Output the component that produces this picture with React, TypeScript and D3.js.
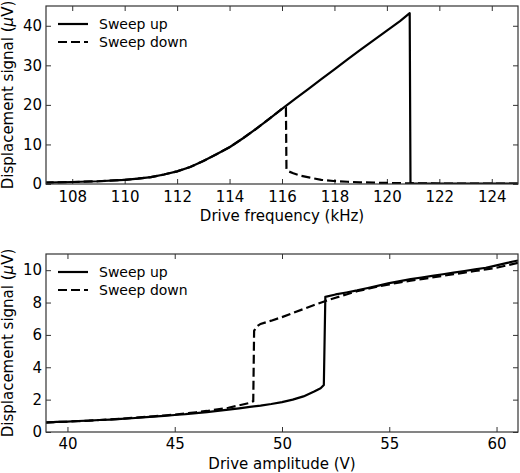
import { useEffect, useRef } from "react";
import * as d3 from "d3";

// Top panel: drive frequency sweep (kHz -> µV)
const freqUpX = [107, 108, 109, 110, 110.5, 111, 111.5, 112, 112.5, 113, 113.5, 114, 114.5, 115, 115.5, 116, 116.5, 117, 117.5, 118, 118.5, 119, 119.5, 120, 120.5, 120.87, 120.9, 121, 122, 123, 124, 125];
const freqUpY = [0.35, 0.5, 0.7, 1.05, 1.35, 1.75, 2.4, 3.2, 4.3, 5.8, 7.5, 9.3, 11.5, 13.9, 16.4, 19.0, 21.5, 24.0, 26.5, 29.0, 31.5, 34.0, 36.4, 38.8, 41.2, 43.2, 0.2, 0.15, 0.12, 0.1, 0.08, 0.07];

const freqDownX = [125, 124, 123, 122, 121, 120.76, 120, 119.5, 118.97, 118.5, 117.96, 117.5, 117.07, 116.7, 116.43, 116.25, 116.17, 116.15, 116, 115.5, 115, 114.5, 114, 113.5, 113, 112.5, 112, 111.5, 111, 110.5, 110, 109, 108, 107];
const freqDownY = [0.07, 0.08, 0.1, 0.12, 0.16, 0.18, 0.26, 0.33, 0.43, 0.57, 0.76, 1.05, 1.6, 2.1, 2.7, 3.2, 3.8, 19.2, 19.0, 16.4, 13.9, 11.5, 9.3, 7.5, 5.8, 4.3, 3.2, 2.4, 1.75, 1.35, 1.05, 0.7, 0.5, 0.35];

// Bottom panel: drive amplitude sweep (V -> µV)
const ampUpX = [39, 39.5, 40, 40.5, 41, 41.5, 42, 42.5, 43, 43.5, 44, 44.5, 45, 45.5, 46, 46.5, 47, 47.5, 48, 48.5, 49, 49.5, 50, 50.5, 51, 51.5, 51.8, 51.95, 52.02, 52.5, 53, 53.5, 54, 54.5, 55, 55.5, 56, 56.5, 57, 57.5, 58, 58.5, 59, 59.5, 60, 60.5, 61];
const ampUpY = [0.58, 0.63, 0.64, 0.68, 0.7, 0.74, 0.77, 0.81, 0.85, 0.9, 0.95, 1.0, 1.05, 1.1, 1.17, 1.23, 1.3, 1.38, 1.46, 1.55, 1.63, 1.73, 1.85, 2.0, 2.2, 2.5, 2.7, 2.9, 8.35, 8.5, 8.62, 8.75, 8.9, 9.05, 9.2, 9.32, 9.45, 9.55, 9.65, 9.75, 9.85, 9.95, 10.05, 10.15, 10.3, 10.45, 10.6];

const ampDownX = [61, 60.5, 60, 59.5, 59, 58.5, 58, 57.5, 57, 56.5, 56, 55.5, 55, 54.5, 54, 53.5, 53, 52.5, 52, 51.5, 51, 50.5, 50, 49.5, 49, 48.8, 48.7, 48.66, 48.5, 48, 47.5, 47, 46.5, 46, 45.5, 45, 44.5, 44, 43.5, 43, 42.5, 42, 41.5, 41, 40.5, 40, 39.5, 39];
const ampDownY = [10.45, 10.3, 10.15, 10.05, 9.95, 9.85, 9.75, 9.65, 9.55, 9.45, 9.35, 9.25, 9.12, 9.0, 8.85, 8.7, 8.5, 8.3, 8.08, 7.85, 7.6, 7.35, 7.1, 6.88, 6.68, 6.5, 6.25, 1.9, 1.8, 1.65, 1.5, 1.4, 1.3, 1.22, 1.15, 1.08, 1.02, 0.97, 0.92, 0.87, 0.82, 0.78, 0.74, 0.7, 0.67, 0.64, 0.62, 0.6];

const freqTicks = [108, 110, 112, 114, 116, 118, 120, 122, 124];
const freqYTicks = [0, 10, 20, 30, 40];
const ampTicks = [40, 45, 50, 55, 60];
const ampYTicks = [0, 2, 4, 6, 8, 10];

const seriesNames = ["Sweep up", "Sweep down"];

const FONT = "DejaVu Sans, sans-serif";
const FRAME = "#333";

interface PanelSpec {
  id: string;
  top: number;
  bottom: number;
  xDomain: [number, number];
  yDomain: [number, number];
  xTicks: number[];
  yTicks: number[];
  xLabel: string;
  xLabelY: number;
  xTickPad: number;
  up: [number[], number[]];
  down: [number[], number[]];
}

export default function App() {
  const svgRef = useRef<SVGSVGElement>(null);

  useEffect(() => {
    document.body.style.margin = "0";
    if (!svgRef.current) return;
    const svg = d3.select(svgRef.current);
    svg.selectAll("*").remove();

    const left = 46;
    const right = 518;

    const panels: PanelSpec[] = [
      {
        id: "freq",
        top: 6,
        bottom: 184,
        xDomain: [107, 125],
        yDomain: [0, 45],
        xTicks: freqTicks,
        yTicks: freqYTicks,
        xLabel: "Drive frequency (kHz)",
        xLabelY: 221,
        xTickPad: 7,
        up: [freqUpX, freqUpY],
        down: [freqDownX, freqDownY],
      },
      {
        id: "amp",
        top: 254,
        bottom: 432,
        xDomain: [39, 61],
        yDomain: [0, 11],
        xTicks: ampTicks,
        yTicks: ampYTicks,
        xLabel: "Drive amplitude (V)",
        xLabelY: 469,
        xTickPad: 6.5,
        up: [ampUpX, ampUpY],
        down: [ampDownX, ampDownY],
      },
    ];

    panels.forEach((p) => {
      const x = d3.scaleLinear().domain(p.xDomain).range([left, right]);
      const y = d3.scaleLinear().domain(p.yDomain).range([p.bottom, p.top]);
      const g = svg.append("g");

      g.append("clipPath")
        .attr("id", `clip-${p.id}`)
        .append("rect")
        .attr("x", left)
        .attr("y", p.top)
        .attr("width", right - left)
        .attr("height", p.bottom - p.top);

      // Axes with inward ticks on all four sides
      const styleAxis = (sel: d3.Selection<SVGGElement, unknown, null, undefined>) => {
        sel.select(".domain").remove();
        sel.selectAll(".tick line").attr("stroke", FRAME).attr("stroke-width", 1);
        sel.selectAll("text").attr("fill", "#000").style("font-family", FONT).style("font-size", "15px");
      };

      g.append("g")
        .attr("transform", `translate(0,${p.bottom})`)
        .call(d3.axisBottom(x).tickValues(p.xTicks).tickSizeInner(-5).tickSizeOuter(0).tickPadding(p.xTickPad).tickFormat(d3.format("d")))
        .call(styleAxis);
      g.append("g")
        .attr("transform", `translate(0,${p.top})`)
        .call(d3.axisTop(x).tickValues(p.xTicks).tickSizeInner(-5).tickSizeOuter(0).tickFormat(() => ""))
        .call(styleAxis);
      g.append("g")
        .attr("transform", `translate(${left},0)`)
        .call(d3.axisLeft(y).tickValues(p.yTicks).tickSizeInner(-5).tickSizeOuter(0).tickPadding(4).tickFormat(d3.format("d")))
        .call(styleAxis);
      g.append("g")
        .attr("transform", `translate(${right},0)`)
        .call(d3.axisRight(y).tickValues(p.yTicks).tickSizeInner(-5).tickSizeOuter(0).tickFormat(() => ""))
        .call(styleAxis);

      const makePath = (xs: number[], ys: number[]) =>
        d3
          .line<number>()
          .x((d) => x(d))
          .y((_, i) => y(ys[i]))(xs);

      const plot = g.append("g").attr("clip-path", `url(#clip-${p.id})`);
      plot
        .append("path")
        .attr("d", makePath(p.up[0], p.up[1]))
        .attr("fill", "none")
        .attr("stroke", "#000")
        .attr("stroke-width", 2.2)
        .attr("stroke-linejoin", "round");
      plot
        .append("path")
        .attr("d", makePath(p.down[0], p.down[1]))
        .attr("fill", "none")
        .attr("stroke", "#000")
        .attr("stroke-width", 2.2)
        .attr("stroke-dasharray", "9,4");

      // Frame
      g.append("rect")
        .attr("x", left)
        .attr("y", p.top)
        .attr("width", right - left)
        .attr("height", p.bottom - p.top)
        .attr("fill", "none")
        .attr("stroke", FRAME)
        .attr("stroke-width", 1.2);

      // Legend
      const legend = g.append("g").attr("transform", `translate(58,${p.top + 18})`);
      seriesNames.forEach((name, i) => {
        legend
          .append("line")
          .attr("x1", 0)
          .attr("x2", 30)
          .attr("y1", i * 18)
          .attr("y2", i * 18)
          .attr("stroke", "#000")
          .attr("stroke-width", 2.2)
          .attr("stroke-dasharray", i === 0 ? null : "9,4");
        legend
          .append("text")
          .attr("x", 41)
          .attr("y", i * 18)
          .attr("dy", "0.35em")
          .style("font-family", FONT)
          .style("font-size", "14px")
          .text(name);
      });

      // Axis labels
      g.append("text")
        .attr("x", (left + right) / 2)
        .attr("y", p.xLabelY)
        .attr("text-anchor", "middle")
        .style("font-family", FONT)
        .style("font-size", "15px")
        .text(p.xLabel);

      const yl = g
        .append("text")
        .attr("transform", `translate(13,${(p.top + p.bottom) / 2}) rotate(-90)`)
        .attr("text-anchor", "middle")
        .style("font-family", FONT)
        .style("font-size", "15px");
      yl.append("tspan").text("Displacement signal (");
      yl.append("tspan").style("font-style", "italic").text("μ");
      yl.append("tspan").text("V)");
    });
  }, []);

  return <svg ref={svgRef} width={520} height={473} style={{ display: "block", background: "#fff" }} />;
}
